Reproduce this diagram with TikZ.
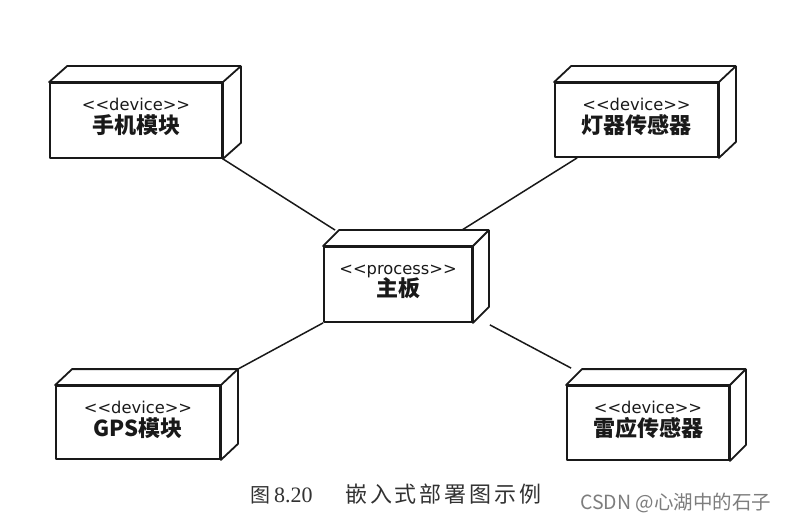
\documentclass[tikz,border=0pt]{standalone}
\usepackage{fontspec}
\newfontfamily\latfont{DejaVu Sans}
\newfontfamily\cjkfont{Noto Sans CJK SC}
\newfontfamily\numfont{Liberation Serif}
\definecolor{ink}{RGB}{25,25,25}
\definecolor{wm}{RGB}{125,125,125}
\definecolor{captink}{RGB}{50,50,50}
\tikzset{
  front/.style={draw=ink, line width=1.8pt, fill=white, inner sep=0pt, line join=round},
  face/.style={draw=ink, line width=1.8pt, line join=round, fill=white},
  stereo/.style={anchor=base, inner sep=0pt, text=ink, font=\latfont\fontsize{16.3}{18}\selectfont},
  cname/.style={anchor=base, inner sep=0pt, text=ink, font=\cjkfont\bfseries\fontsize{22}{24}\selectfont},
  link/.style={draw=ink, line width=1.5pt},
  capt/.style={anchor=base west, inner sep=0pt, text=captink, font=\cjkfont\fontsize{22}{24}\selectfont},
  captnum/.style={anchor=base west, inner sep=0pt, text=captink, font=\numfont\fontsize{22}{24}\selectfont},
  wmark/.style={anchor=base west, inner sep=0pt, text=wm, font=\cjkfont\fontsize{19.5}{22}\selectfont},
}
\newcommand\boxfaces[2]{%
  \path[face] (#1.north west) -- ([shift={(#2pt,16pt)}]#1.north west)
    -- ([shift={(#2pt,16pt)}]#1.north east) -- ([shift={(#2pt,16pt)}]#1.south east)
    -- (#1.south east) -- (#1.north east) -- cycle;
  \draw[face] (#1.north east) -- ([shift={(#2pt,16pt)}]#1.north east);
}
\begin{document}
\begin{tikzpicture}[x=1pt,y=-1pt]
\fill[white] (0,0) rectangle (787,521);
\useasboundingbox (0,0) rectangle (787,521);

% nodes (front faces)
\node[front, minimum width=172pt, minimum height=75pt] (b1) at (136,120.5) {};
\node[front, minimum width=163pt, minimum height=74pt] (b2) at (636.5,120) {};
\node[front, minimum width=148pt, minimum height=75pt] (m) at (398,284.5) {};
\node[front, minimum width=164pt, minimum height=73pt] (b3) at (138,422.5) {};
\node[front, minimum width=162pt, minimum height=74pt] (b4) at (648,423) {};
\boxfaces{b1}{18}
\boxfaces{b2}{17}
\boxfaces{m}{16}
\boxfaces{b3}{17}
\boxfaces{b4}{16}

% texts
\node[stereo] (b1s) at ([yshift=-28pt]b1.north) {<\kern0pt<device>\kern0pt>};
\node[cname]  (b1n) at ([yshift=-51pt]b1.north) {手机模块};
\node[stereo] (b2s) at ([yshift=-28pt]b2.north) {<\kern0pt<device>\kern0pt>};
\node[cname]  (b2n) at ([yshift=-51pt]b2.north) {灯器传感器};
\node[stereo] (ms)  at ([yshift=-28pt]m.north)  {<\kern0pt<process>\kern0pt>};
\node[cname]  (mn)  at ([yshift=-50pt]m.north)  {主板};
\node[stereo] (b3s) at ([yshift=-28pt]b3.north) {<\kern0pt<device>\kern0pt>};
\node[cname]  (b3n) at ([yshift=-51pt]b3.north) {GPS模块};
\node[stereo] (b4s) at ([yshift=-28pt]b4.north) {<\kern0pt<device>\kern0pt>};
\node[cname]  (b4n) at ([yshift=-51pt]b4.north) {雷应传感器};

% connector end points
\coordinate (m-tl) at ([shift={(12pt,16pt)}]m.north west);
\coordinate (m-tr) at ([shift={(-11pt,16pt)}]m.north east);
\coordinate (m-br) at ([shift={(17pt,-2pt)}]m.south east);
\coordinate (b2-bot) at ([xshift=23pt]b2.south west);
\coordinate (b3-top) at ([shift={(17pt,16pt)}]b3.north east);
\coordinate (b4-top) at ([shift={(5pt,17pt)}]b4.north west);

\draw[link] (b1.south east) -- (m-tl);
\draw[link] (b2-bot) -- (m-tr);
\draw[link] (b3-top) -- (m.south west);
\draw[link] (m-br) -- (b4-top);

% caption and watermark
\node[capt, font=\cjkfont\fontsize{20}{22}\selectfont] (cap1) at (250,502) {图};
\node[captnum] (cap2) at (274,502) {8.20};
\node[capt] (cap3) at (345,502) {\makebox[196pt][s]{嵌\hfil 入\hfil 式\hfil 部\hfil 署\hfil 图\hfil 示\hfil 例}};
\node[wmark] (wm1) at (580,509) {CSDN @心湖中的石子};
\end{tikzpicture}
\end{document}
